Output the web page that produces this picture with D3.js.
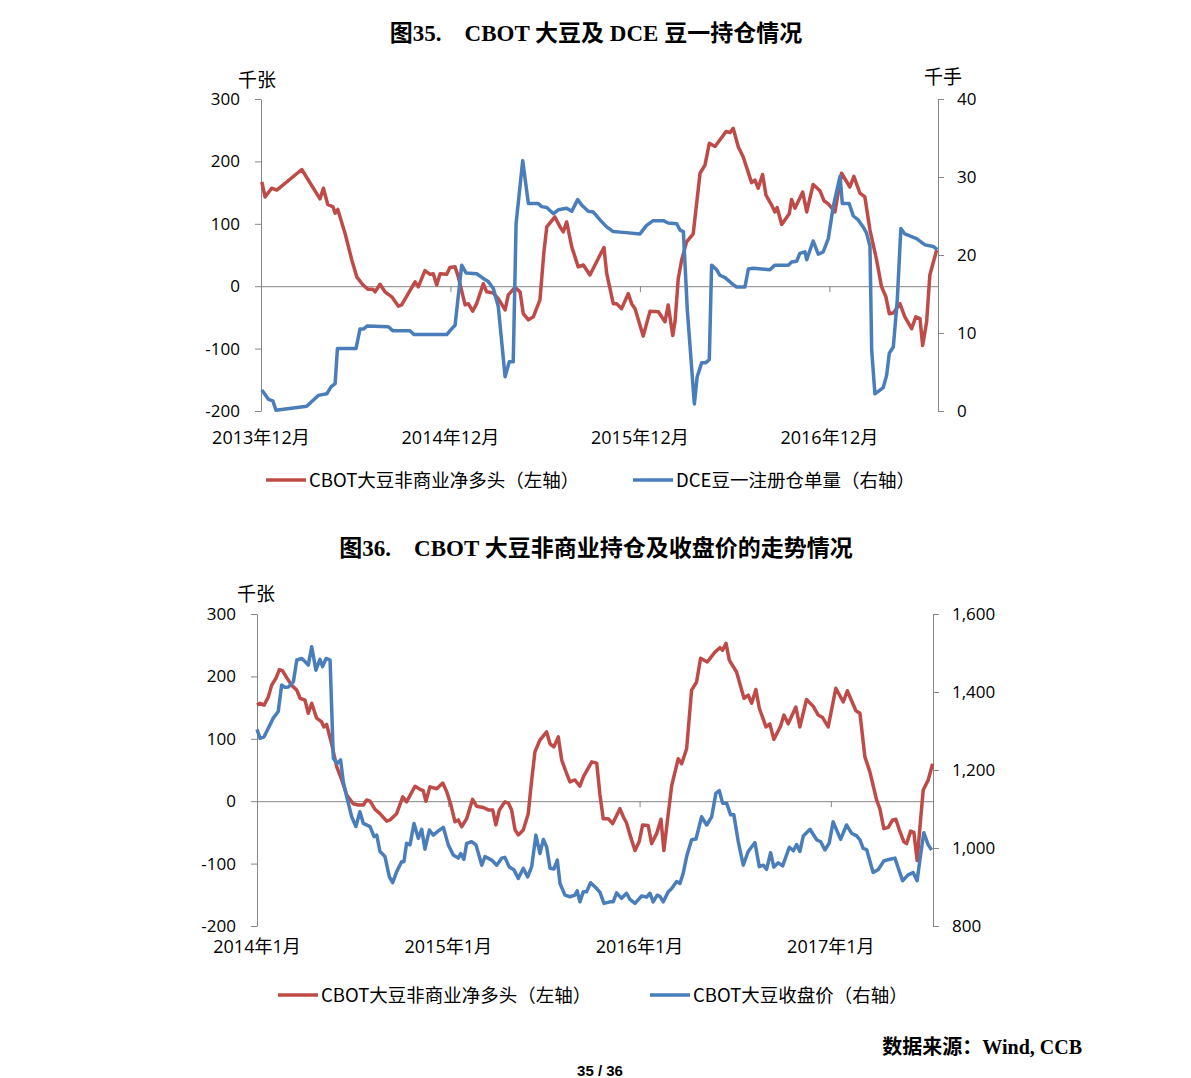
<!DOCTYPE html>
<html>
<head>
<meta charset="utf-8">
<script src="https://cdn.jsdelivr.net/npm/d3@7"></script>
<style>
  body { margin: 0; background: #fff; }
  svg { display: block; }
</style>
</head>
<body>
<script>
// time is stored as decimal years

// Figure 35: CBOT soybean non-commercial net long (left) and DCE No.1 soybean warrants (right)
const fig35Ticks = [2013 + 11 / 12, 2014 + 11 / 12, 2015 + 11 / 12, 2016 + 11 / 12];
const fig35TickLabels = ["2013年12月", "2014年12月", "2015年12月", "2016年12月"];
const fig35LeftTicks = [-200, -100, 0, 100, 200, 300];
const fig35RightTicks = [0, 10, 20, 30, 40];

const fig35NetLong = [
  [2013.921, 167], [2013.938, 143], [2013.973, 157], [2014.000, 154], [2014.132, 187],
  [2014.228, 140], [2014.246, 157], [2014.269, 131], [2014.297, 127], [2014.308, 117],
  [2014.322, 123], [2014.360, 85], [2014.396, 42], [2014.422, 15], [2014.455, 2],
  [2014.482, -5], [2014.508, -5], [2014.519, -9], [2014.545, 3], [2014.571, -9],
  [2014.607, -17], [2014.642, -32], [2014.659, -30], [2014.730, 7], [2014.747, -1],
  [2014.782, 25], [2014.809, 19], [2014.826, 20], [2014.844, 2], [2014.862, 20],
  [2014.897, 19], [2014.914, 30], [2014.941, 31], [2014.958, 15], [2014.994, -30],
  [2015.011, -28], [2015.034, -40], [2015.055, -28], [2015.090, 4], [2015.108, -9],
  [2015.143, -11], [2015.169, -20], [2015.205, -38], [2015.222, -14], [2015.257, -2],
  [2015.284, -9], [2015.301, -44], [2015.328, -54], [2015.354, -49], [2015.389, -22],
  [2015.410, 55], [2015.425, 95], [2015.468, 111], [2015.495, 95], [2015.512, 87],
  [2015.530, 103], [2015.557, 63], [2015.591, 31], [2015.618, 34], [2015.653, 18],
  [2015.706, 50], [2015.727, 62], [2015.741, 21], [2015.776, -28], [2015.794, -28],
  [2015.820, -36], [2015.855, -12], [2015.873, -28], [2015.891, -36], [2015.934, -80],
  [2015.970, -40], [2016.014, -41], [2016.049, -57], [2016.066, -30], [2016.090, -79],
  [2016.102, -57], [2016.119, 12], [2016.137, 42], [2016.163, 71], [2016.198, 84],
  [2016.234, 181], [2016.260, 194], [2016.283, 229], [2016.313, 224], [2016.357, 242],
  [2016.371, 248], [2016.392, 246], [2016.409, 253], [2016.436, 223], [2016.462, 207],
  [2016.506, 166], [2016.524, 170], [2016.541, 157], [2016.564, 179], [2016.582, 146],
  [2016.612, 130], [2016.629, 119], [2016.641, 126], [2016.665, 99], [2016.705, 116],
  [2016.717, 139], [2016.735, 125], [2016.776, 151], [2016.797, 119], [2016.831, 163],
  [2016.867, 153], [2016.888, 137], [2016.911, 132], [2016.946, 119], [2016.981, 181],
  [2017.025, 159], [2017.046, 176], [2017.078, 149], [2017.104, 143], [2017.131, 90],
  [2017.166, 42], [2017.192, -1], [2017.215, -17], [2017.233, -44], [2017.254, -43],
  [2017.289, -28], [2017.315, -49], [2017.351, -68], [2017.373, -49], [2017.395, -52],
  [2017.409, -95], [2017.430, -57], [2017.447, 18], [2017.483, 58]
];

const fig35Warrants = [
  [2013.921, 2.7], [2013.956, 1.5], [2013.979, 1.3], [2013.996, 0.1], [2014.158, 0.6],
  [2014.219, 2.0], [2014.264, 2.2], [2014.286, 3.1], [2014.308, 3.5], [2014.320, 8.0],
  [2014.418, 8.0], [2014.439, 10.5], [2014.457, 10.5], [2014.478, 10.9], [2014.589, 10.8],
  [2014.612, 10.3], [2014.703, 10.3], [2014.724, 9.8], [2014.897, 9.8], [2014.918, 10.4],
  [2014.941, 11.0], [2014.976, 18.7], [2014.999, 17.7], [2015.055, 17.6], [2015.090, 17.0],
  [2015.116, 16.6], [2015.143, 15.7], [2015.169, 13.4], [2015.205, 4.4], [2015.227, 6.3],
  [2015.248, 6.3], [2015.263, 24.0], [2015.298, 32.1], [2015.328, 26.6], [2015.380, 26.6],
  [2015.398, 26.2], [2015.425, 26.1], [2015.460, 25.3], [2015.486, 25.8], [2015.530, 26.0],
  [2015.557, 25.6], [2015.588, 27.1], [2015.609, 26.4], [2015.644, 25.6], [2015.671, 25.5],
  [2015.706, 24.5], [2015.741, 23.6], [2015.776, 23.0], [2015.829, 22.9], [2015.917, 22.7],
  [2015.952, 23.8], [2015.987, 24.4], [2016.040, 24.4], [2016.066, 24.1], [2016.111, 24.0],
  [2016.128, 23.2], [2016.146, 23.0], [2016.167, 12.9], [2016.204, 0.9], [2016.219, 4.4],
  [2016.243, 6.2], [2016.265, 6.2], [2016.283, 6.6], [2016.295, 18.7], [2016.322, 18.1],
  [2016.339, 17.4], [2016.366, 17.1], [2016.409, 16.2], [2016.427, 15.9], [2016.471, 15.9],
  [2016.489, 18.2], [2016.515, 18.3], [2016.603, 18.1], [2016.629, 18.7], [2016.700, 18.7],
  [2016.717, 19.1], [2016.744, 19.2], [2016.761, 20.2], [2016.788, 20.4], [2016.797, 19.4],
  [2016.831, 21.8], [2016.858, 20.1], [2016.884, 20.4], [2016.911, 22.1], [2016.937, 26.2],
  [2016.973, 30.1], [2016.985, 26.6], [2017.021, 26.6], [2017.043, 25.0], [2017.069, 24.5],
  [2017.095, 23.6], [2017.113, 22.8], [2017.131, 21.1], [2017.140, 7.8], [2017.157, 2.2],
  [2017.201, 3.0], [2017.219, 4.6], [2017.233, 7.4], [2017.254, 8.2], [2017.275, 14.2],
  [2017.294, 23.4], [2017.315, 22.7], [2017.377, 22.1], [2017.421, 21.3], [2017.465, 21.1],
  [2017.486, 20.7]
];

// Figure 36: CBOT soybean non-commercial net long (left) and CBOT soybean close (right)
const fig36Ticks = [2014, 2015, 2016, 2017];
const fig36TickLabels = ["2014年1月", "2015年1月", "2016年1月", "2017年1月"];
const fig36LeftTicks = [-200, -100, 0, 100, 200, 300];
const fig36RightTicks = [800, 1000, 1200, 1400, 1600];

const fig36NetLong = [
  [2014.000, 154], [2014.016, 157], [2014.037, 154], [2014.059, 167], [2014.077, 186],
  [2014.099, 197], [2014.117, 211], [2014.134, 209], [2014.155, 198], [2014.181, 186],
  [2014.208, 178], [2014.225, 165], [2014.251, 162], [2014.268, 141], [2014.286, 157],
  [2014.312, 133], [2014.338, 127], [2014.350, 119], [2014.364, 123], [2014.390, 92],
  [2014.417, 55], [2014.443, 34], [2014.469, 10], [2014.503, -4], [2014.530, -6],
  [2014.556, -6], [2014.573, 2], [2014.591, 0], [2014.617, -13], [2014.643, -20],
  [2014.678, -32], [2014.695, -30], [2014.730, -20], [2014.762, 7], [2014.782, -1],
  [2014.826, 24], [2014.852, 19], [2014.869, 17], [2014.883, 0], [2014.904, 23],
  [2014.939, 20], [2014.971, 29], [2014.992, 15], [2015.012, -4], [2015.035, -33],
  [2015.052, -30], [2015.070, -41], [2015.096, -28], [2015.127, 3], [2015.148, -8],
  [2015.183, -10], [2015.209, -14], [2015.232, -14], [2015.249, -38], [2015.267, -14],
  [2015.296, -1], [2015.314, -3], [2015.331, -14], [2015.349, -46], [2015.366, -54],
  [2015.392, -46], [2015.418, -20], [2015.436, 34], [2015.453, 79], [2015.479, 98],
  [2015.514, 111], [2015.532, 92], [2015.552, 87], [2015.575, 103], [2015.593, 66],
  [2015.619, 44], [2015.636, 31], [2015.662, 34], [2015.688, 24], [2015.706, 39],
  [2015.750, 63], [2015.776, 61], [2015.793, 10], [2015.810, -28], [2015.836, -28],
  [2015.859, -36], [2015.897, -12], [2015.915, -25], [2015.932, -35], [2015.950, -54],
  [2015.976, -79], [2015.998, -65], [2016.016, -38], [2016.045, -39], [2016.063, -68],
  [2016.089, -52], [2016.112, -29], [2016.127, -79], [2016.150, -20], [2016.168, 25],
  [2016.202, 68], [2016.220, 60], [2016.246, 84], [2016.272, 178], [2016.298, 191],
  [2016.319, 229], [2016.354, 223], [2016.394, 239], [2016.420, 246], [2016.434, 242],
  [2016.452, 253], [2016.469, 226], [2016.507, 207], [2016.546, 165], [2016.568, 170],
  [2016.586, 157], [2016.608, 179], [2016.626, 149], [2016.661, 119], [2016.681, 124],
  [2016.702, 99], [2016.737, 120], [2016.755, 138], [2016.777, 124], [2016.817, 151],
  [2016.838, 119], [2016.873, 163], [2016.908, 152], [2016.934, 138], [2016.957, 134],
  [2016.986, 119], [2017.026, 181], [2017.065, 159], [2017.086, 177], [2017.114, 157],
  [2017.131, 145], [2017.152, 141], [2017.178, 71], [2017.204, 47], [2017.239, 2],
  [2017.256, -12], [2017.277, -44], [2017.300, -42], [2017.323, -30], [2017.340, -29],
  [2017.357, -45], [2017.382, -65], [2017.396, -68], [2017.417, -48], [2017.434, -50],
  [2017.451, -95], [2017.469, -30], [2017.483, 18], [2017.509, 34], [2017.532, 60]
];

const fig36Close = [
  [2014.000, 1304], [2014.016, 1281], [2014.037, 1285], [2014.059, 1307], [2014.085, 1333],
  [2014.111, 1350], [2014.129, 1418], [2014.146, 1412], [2014.164, 1413], [2014.190, 1426],
  [2014.208, 1482], [2014.234, 1486], [2014.251, 1478], [2014.268, 1469], [2014.286, 1516],
  [2014.308, 1456], [2014.329, 1484], [2014.343, 1465], [2014.361, 1486], [2014.382, 1482],
  [2014.399, 1230], [2014.420, 1217], [2014.437, 1226], [2014.451, 1170], [2014.469, 1132],
  [2014.495, 1080], [2014.517, 1055], [2014.538, 1093], [2014.556, 1063], [2014.591, 1055],
  [2014.612, 1029], [2014.626, 1033], [2014.643, 991], [2014.669, 978], [2014.692, 926],
  [2014.709, 911], [2014.730, 939], [2014.756, 965], [2014.768, 965], [2014.782, 1012],
  [2014.800, 1008], [2014.821, 1063], [2014.843, 1025], [2014.861, 1048], [2014.878, 997],
  [2014.901, 1046], [2014.922, 1033], [2014.948, 1044], [2014.974, 1053], [2015.000, 1008],
  [2015.026, 982], [2015.052, 974], [2015.065, 986], [2015.082, 971], [2015.096, 1012],
  [2015.122, 1016], [2015.145, 1008], [2015.175, 956], [2015.192, 978], [2015.227, 969],
  [2015.253, 956], [2015.279, 974], [2015.296, 976], [2015.319, 951], [2015.343, 944],
  [2015.366, 922], [2015.392, 948], [2015.415, 926], [2015.436, 952], [2015.458, 1033],
  [2015.479, 986], [2015.497, 1022], [2015.514, 1003], [2015.532, 948], [2015.552, 946],
  [2015.570, 969], [2015.584, 909], [2015.610, 879], [2015.636, 875], [2015.662, 879],
  [2015.674, 890], [2015.688, 862], [2015.706, 888], [2015.723, 888], [2015.744, 911],
  [2015.776, 896], [2015.793, 886], [2015.814, 858], [2015.845, 862], [2015.862, 862],
  [2015.880, 885], [2015.906, 871], [2015.932, 884], [2015.950, 868], [2015.976, 858],
  [2016.011, 877], [2016.037, 874], [2016.054, 884], [2016.071, 862], [2016.092, 879],
  [2016.106, 876], [2016.124, 862], [2016.150, 888], [2016.168, 896], [2016.194, 914],
  [2016.211, 909], [2016.228, 935], [2016.246, 978], [2016.272, 1021], [2016.295, 1023],
  [2016.324, 1080], [2016.351, 1059], [2016.377, 1080], [2016.399, 1140], [2016.417, 1147],
  [2016.434, 1115], [2016.455, 1115], [2016.476, 1085], [2016.493, 1085], [2016.516, 1016],
  [2016.542, 956], [2016.568, 991], [2016.603, 1014], [2016.626, 952], [2016.647, 956],
  [2016.664, 945], [2016.685, 988], [2016.702, 951], [2016.725, 962], [2016.748, 954],
  [2016.783, 1002], [2016.804, 993], [2016.821, 1009], [2016.838, 991], [2016.856, 1031],
  [2016.891, 1048], [2016.926, 1021], [2016.947, 1016], [2016.969, 995], [2016.991, 1012],
  [2017.012, 1067], [2017.051, 1022], [2017.082, 1059], [2017.108, 1038], [2017.135, 1031],
  [2017.152, 1021], [2017.169, 999], [2017.187, 996], [2017.221, 937], [2017.248, 945],
  [2017.277, 967], [2017.309, 971], [2017.335, 974], [2017.375, 916], [2017.404, 931],
  [2017.430, 937], [2017.451, 916], [2017.469, 982], [2017.486, 1039], [2017.509, 1008],
  [2017.527, 995]
];

const RED = "#BE4B48";
const BLUE = "#4A7EBB";
const AXIS = "#868686";
const LABEL_FONT = "'Open Sans', 'Noto Sans CJK SC', sans-serif";
const CJK_FONT = "'Noto Sans CJK SC', sans-serif";
const TITLE_FONT = "'Liberation Serif', 'Noto Sans CJK SC', serif";

const svg = d3.select("body")
  .append("svg")
  .attr("width", 1191)
  .attr("height", 1078);

function drawChart(c) {
  const x = d3.scaleLinear().domain(c.xDomain).range([c.left, c.right]);
  const yL = d3.scaleLinear().domain([-200, 300]).range([c.bottom, c.top]);
  const yR = d3.scaleLinear().domain(c.rightDomain).range([c.bottom, c.top]);

  // title
  svg.append("text")
    .attr("x", 596)
    .attr("y", c.titleY)
    .attr("text-anchor", "middle")
    .style("white-space", "pre")
    .style("font-family", TITLE_FONT)
    .style("font-size", "23px")
    .style("font-weight", "bold")
    .text(c.title);

  // zero line with year ticks
  const xAxis = svg.append("g")
    .attr("transform", `translate(0, ${yL(0)})`)
    .call(d3.axisBottom(x).tickValues(c.ticks).tickSize(6).tickSizeOuter(0).tickFormat(""));
  xAxis.selectAll("path, line").attr("stroke", AXIS);

  // tick labels sit under the plot, not under the zero line
  svg.selectAll(null)
    .data(c.ticks)
    .enter()
    .append("text")
    .attr("x", (d) => x(d))
    .attr("y", c.bottom + c.labelOffset)
    .attr("text-anchor", "middle")
    .style("font-family", LABEL_FONT)
    .style("font-size", "18px")
    .text((d, i) => c.tickLabels[i]);

  // left axis (plain hyphen for negatives, as in the original)
  const left = svg.append("g")
    .attr("transform", `translate(${c.left}, 0)`)
    .call(d3.axisLeft(yL).tickValues(c.leftTicks).tickSize(6).tickPadding(15).tickSizeOuter(0)
      .tickFormat((d) => String(d)));
  left.selectAll("path, line").attr("stroke", AXIS);
  left.selectAll("text")
    .style("font-family", LABEL_FONT)
    .style("font-size", "17px")
    .attr("fill", "#000");

  // right axis
  const right = svg.append("g")
    .attr("transform", `translate(${c.right}, 0)`)
    .call(d3.axisRight(yR).tickValues(c.rightTicks).tickSize(6).tickPadding(13).tickSizeOuter(0)
      .tickFormat(c.rightFormat));
  right.selectAll("path, line").attr("stroke", AXIS);
  right.selectAll("text")
    .style("font-family", LABEL_FONT)
    .style("font-size", "17px")
    .attr("fill", "#000");

  // unit labels
  c.units.forEach((u) => {
    svg.append("text")
      .attr("x", u.x)
      .attr("y", u.y)
      .attr("text-anchor", "middle")
      .style("font-family", CJK_FONT)
      .style("font-size", "19px")
      .text(u.text);
  });

  // series
  const lineL = d3.line().x((d) => x(d[0])).y((d) => yL(d[1]));
  const lineR = d3.line().x((d) => x(d[0])).y((d) => yR(d[1]));

  svg.append("path")
    .datum(c.leftSeries)
    .attr("d", lineL)
    .attr("fill", "none")
    .attr("stroke", RED)
    .attr("stroke-width", 3.5)
    .attr("stroke-linejoin", "round");

  svg.append("path")
    .datum(c.rightSeries)
    .attr("d", lineR)
    .attr("fill", "none")
    .attr("stroke", BLUE)
    .attr("stroke-width", 3.5)
    .attr("stroke-linejoin", "round");

  // legend
  c.legend.forEach((l) => {
    svg.append("line")
      .attr("x1", l.x)
      .attr("x2", l.x + 40)
      .attr("y1", c.legendY)
      .attr("y2", c.legendY)
      .attr("stroke", l.color)
      .attr("stroke-width", 3.5);
    svg.append("text")
      .attr("x", l.x + 43)
      .attr("y", c.legendY + 7)
      .style("font-family", CJK_FONT)
      .style("font-size", "18.5px")
      .text(l.text);
  });
}

drawChart({
  title: "图35.    CBOT 大豆及 DCE 豆一持仓情况",
  titleY: 41,
  left: 261, right: 938, top: 99, bottom: 411,
  xDomain: [2013 + 11 / 12, 2017.49],
  ticks: fig35Ticks,
  tickLabels: fig35TickLabels,
  labelOffset: 33,
  leftTicks: fig35LeftTicks,
  rightDomain: [0, 40],
  rightTicks: fig35RightTicks,
  rightFormat: d3.format("d"),
  units: [{ text: "千张", x: 257, y: 87 }, { text: "千手", x: 943, y: 84 }],
  leftSeries: fig35NetLong,
  rightSeries: fig35Warrants,
  legendY: 480,
  legend: [
    { x: 266, color: RED, text: "CBOT大豆非商业净多头（左轴）" },
    { x: 633, color: BLUE, text: "DCE豆一注册仓单量（右轴）" }
  ]
});

drawChart({
  title: "图36.    CBOT 大豆非商业持仓及收盘价的走势情况",
  titleY: 556,
  left: 257, right: 933, top: 614, bottom: 926,
  xDomain: [2014, 2017.534],
  ticks: fig36Ticks,
  tickLabels: fig36TickLabels,
  labelOffset: 27,
  leftTicks: fig36LeftTicks,
  rightDomain: [800, 1600],
  rightTicks: fig36RightTicks,
  rightFormat: d3.format(","),
  units: [{ text: "千张", x: 256, y: 601 }],
  leftSeries: fig36NetLong,
  rightSeries: fig36Close,
  legendY: 995,
  legend: [
    { x: 278, color: RED, text: "CBOT大豆非商业净多头（左轴）" },
    { x: 650, color: BLUE, text: "CBOT大豆收盘价（右轴）" }
  ]
});

// source note and page number
svg.append("text")
  .attr("x", 1082)
  .attr("y", 1054)
  .attr("text-anchor", "end")
  .style("white-space", "pre")
  .style("font-family", TITLE_FONT)
  .style("font-size", "20px")
  .style("font-weight", "bold")
  .text("数据来源：Wind, CCB");

svg.append("text")
  .attr("x", 600)
  .attr("y", 1076)
  .attr("text-anchor", "middle")
  .style("font-family", "'Liberation Sans', sans-serif")
  .style("font-size", "15px")
  .style("font-weight", "bold")
  .text("35 / 36");
</script>
</body>
</html>
